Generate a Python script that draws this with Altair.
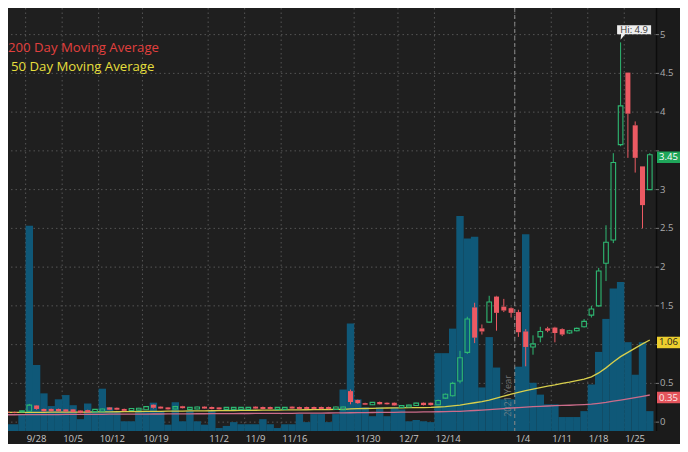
import altair as alt
import pandas as pd

# ---------------- data ----------------
session = list(range(89))  # trading sessions shown, left to right

opens = [0.135, 0.13, 0.13, 0.14, 0.215, 0.17, 0.17, 0.17, 0.165, 0.165,
         0.15, 0.155, 0.135, 0.14, 0.19, 0.185, 0.17, 0.15, 0.155, 0.16,
         0.225, 0.2, 0.19, 0.17, 0.205, 0.165, 0.17, 0.2, 0.195, 0.19,
         0.165, 0.165, 0.165, 0.165, 0.2, 0.195, 0.195, 0.165, 0.165, 0.2,
         0.195, 0.195, 0.195, 0.195, 0.195, 0.165, 0.16, 0.40, 0.285, 0.245,
         0.225, 0.26, 0.25, 0.25, 0.19, 0.195, 0.215, 0.25, 0.25, 0.225,
         0.31, 0.34, 0.53, 0.90, 1.48, 1.21, 1.29, 1.62, 1.49, 1.47,
         1.42, 1.17, 0.97, 1.10, 1.21, 1.22, 1.20, 1.15, 1.18, 1.23,
         1.38, 1.50, 2.05, 2.35, 3.58, 4.51, 3.83, 3.30, 3.00]
highs = [0.14, 0.135, 0.15, 0.235, 0.22, 0.175, 0.175, 0.175, 0.17, 0.17,
         0.155, 0.16, 0.17, 0.175, 0.195, 0.19, 0.175, 0.18, 0.185, 0.205,
         0.23, 0.205, 0.195, 0.21, 0.21, 0.195, 0.2, 0.205, 0.2, 0.195,
         0.195, 0.195, 0.195, 0.195, 0.205, 0.2, 0.2, 0.195, 0.195, 0.205,
         0.2, 0.2, 0.2, 0.2, 0.2, 0.2, 0.2, 0.42, 0.29, 0.25,
         0.26, 0.265, 0.255, 0.255, 0.22, 0.225, 0.25, 0.255, 0.255, 0.29,
         0.37, 0.52, 0.92, 1.36, 1.54, 1.26, 1.63, 1.63, 1.59, 1.48,
         1.45, 1.20, 1.12, 1.23, 1.23, 1.23, 1.21, 1.19, 1.22, 1.33,
         1.50, 1.99, 2.54, 3.47, 4.90, 4.51, 3.88, 3.30, 3.47]
lows = [0.115, 0.115, 0.125, 0.135, 0.16, 0.135, 0.135, 0.135, 0.13, 0.125,
        0.115, 0.12, 0.13, 0.135, 0.155, 0.155, 0.14, 0.145, 0.15, 0.155,
        0.175, 0.17, 0.16, 0.165, 0.175, 0.16, 0.165, 0.17, 0.165, 0.16,
        0.16, 0.16, 0.16, 0.16, 0.17, 0.165, 0.165, 0.16, 0.16, 0.17,
        0.165, 0.165, 0.165, 0.165, 0.165, 0.16, 0.155, 0.23, 0.235, 0.22,
        0.22, 0.225, 0.225, 0.21, 0.185, 0.19, 0.21, 0.215, 0.215, 0.22,
        0.30, 0.33, 0.50, 0.88, 1.02, 1.13, 1.28, 1.18, 1.42, 1.35,
        1.10, 0.72, 0.87, 1.03, 1.16, 1.03, 1.11, 1.14, 1.17, 1.22,
        1.35, 1.49, 1.82, 2.31, 3.56, 3.41, 3.22, 2.50, 3.00]
closes = [0.12, 0.12, 0.145, 0.22, 0.17, 0.14, 0.14, 0.14, 0.135, 0.13,
          0.12, 0.125, 0.165, 0.17, 0.16, 0.16, 0.145, 0.175, 0.18, 0.2,
          0.185, 0.175, 0.165, 0.2, 0.18, 0.19, 0.195, 0.175, 0.17, 0.165,
          0.19, 0.19, 0.19, 0.19, 0.175, 0.17, 0.17, 0.19, 0.19, 0.175,
          0.17, 0.17, 0.17, 0.17, 0.17, 0.195, 0.195, 0.26, 0.245, 0.225,
          0.255, 0.23, 0.23, 0.215, 0.215, 0.22, 0.245, 0.22, 0.22, 0.28,
          0.36, 0.50, 0.83, 1.33, 1.09, 1.17, 1.55, 1.41, 1.44, 1.41,
          1.16, 0.97, 1.01, 1.17, 1.18, 1.15, 1.13, 1.18, 1.21, 1.30,
          1.46, 1.95, 2.32, 3.35, 4.08, 3.98, 3.41, 2.80, 3.45]
volume_m = [0.16, 0.16, 0.40, 4.85, 1.56, 0.89, 0.59, 0.75, 0.85, 0.61,
            0.28, 0.65, 0.47, 1.00, 0.56, 0.47, 0.23, 0.23, 0.47, 0.47,
            0.67, 0.47, 0.15, 0.68, 0.23, 0.47, 0.23, 0.15, 0.47, 0.07,
            0.12, 0.21, 0.16, 0.16, 0.16, 0.28, 0.16, 0.07, 0.16, 0.16,
            0.40, 0.21, 0.40, 0.40, 0.21, 0.40, 0.98, 2.54, 0.75, 0.56,
            0.35, 0.56, 0.35, 0.56, 0.51, 0.23, 0.26, 0.23, 0.21, 1.84,
            1.84, 2.42, 5.08, 4.55, 4.59, 1.03, 2.22, 1.50, 0.75, 0.75,
            1.52, 4.65, 1.14, 0.86, 0.63, 0.63, 0.33, 0.33, 0.33, 0.47,
            1.10, 1.87, 2.65, 3.37, 3.52, 2.10, 1.33, 2.10, 0.47]
ma50 = [0.125, 0.125, 0.125, 0.125, 0.126, 0.127, 0.128, 0.128, 0.129, 0.13,
        0.13, 0.13, 0.131, 0.132, 0.133, 0.134, 0.135, 0.136, 0.137, 0.138,
        0.139, 0.14, 0.141, 0.142, 0.143, 0.144, 0.145, 0.146, 0.147, 0.148,
        0.149, 0.15, 0.151, 0.152, 0.153, 0.154, 0.155, 0.156, 0.157, 0.158,
        0.159, 0.16, 0.161, 0.162, 0.163, 0.164, 0.165, 0.17, 0.173, 0.176,
        0.178, 0.18, 0.182, 0.184, 0.185, 0.186, 0.187, 0.188, 0.19, 0.195,
        0.2, 0.21, 0.22, 0.235, 0.25, 0.265, 0.285, 0.31, 0.335, 0.36,
        0.385, 0.405, 0.425, 0.445, 0.465, 0.48, 0.5, 0.515, 0.535, 0.555,
        0.585, 0.635, 0.7, 0.775, 0.845, 0.9, 0.955, 1.01, 1.06]
ma200 = [0.095, 0.095, 0.096, 0.096, 0.097, 0.097, 0.098, 0.098, 0.099, 0.099,
         0.1, 0.1, 0.101, 0.101, 0.102, 0.102, 0.103, 0.103, 0.104, 0.104,
         0.105, 0.105, 0.106, 0.106, 0.107, 0.107, 0.108, 0.108, 0.109, 0.109,
         0.11, 0.11, 0.111, 0.111, 0.112, 0.112, 0.113, 0.113, 0.114, 0.114,
         0.115, 0.115, 0.116, 0.117, 0.118, 0.119, 0.12, 0.121, 0.122, 0.123,
         0.124, 0.125, 0.126, 0.127, 0.128, 0.129, 0.13, 0.131, 0.132, 0.134,
         0.136, 0.138, 0.14, 0.145, 0.15, 0.155, 0.162, 0.168, 0.175, 0.182,
         0.188, 0.194, 0.2, 0.204, 0.208, 0.212, 0.215, 0.218, 0.222, 0.227,
         0.233, 0.243, 0.255, 0.27, 0.285, 0.3, 0.315, 0.332, 0.35]

date_labels = ["9/28", "10/5", "10/12", "10/19", "11/2", "11/9", "11/16",
               "11/30", "12/7", "12/14", "1/4", "1/11", "1/18", "1/25"]
date_label_pos = [2.5, 7.5, 12.5, 18.5, 27.5, 32.5, 37.5,
                  47.5, 53.5, 58.5, 69.5, 74.5, 79.5, 84.5]
year_break_pos = 69.5
year_text = "2021 Year"
price_ticks = [0, 0.5, 1, 1.5, 2, 2.5, 3, 3.5, 4, 4.5, 5]
legend_texts = ["200 Day Moving Average", "50 Day Moving Average"]

for arr in (opens, highs, lows, closes, volume_m, ma50, ma200):
    assert len(arr) == len(session)

# ---------------- styling ----------------
FONT = "Open Sans"
BG = "#1b1b1b"
PLOT_BG = "#1f1f1f"
VOL_C = "#0f5878"
UP_C = "#2eb872"
DN_C = "#ec5a63"
MA50_C = "#d8cf4c"
MA200_C = "#cc6c8a"
GRID_C = "#555555"
PLOT_W, PLOT_H = 648, 423
TOTAL_W, TOTAL_H = 672, 436

df = pd.DataFrame({
    "idx": session, "open": opens, "high": highs, "low": lows, "close": closes,
    "vol": volume_m, "ma50": ma50, "ma200": ma200,
})
df["dir"] = ["up" if c >= o else "down" for o, c in zip(opens, closes)]
df["body_top"] = [max(o, c) for o, c in zip(opens, closes)]
df["body_bot"] = [min(o, c) for o, c in zip(opens, closes)]

# last-value tags (close, 50-day, 200-day)
tag_values = [closes[-1], ma50[-1], ma200[-1]]
last_df = pd.DataFrame({
    "value": tag_values,
    "text": [f"{v:.2f}" for v in tag_values],
    "bg": ["#1fa65a", "#ecce2e", "#e4545c"],
    "fg": ["#ffffff", "#1a1a1a", "#fbe9ea"],
})

tick_df = pd.DataFrame({"price": price_ticks, "label": [f"{v:g}" for v in price_ticks]})
# tick labels that sit underneath a last-value tag are hidden by it
label_df = tick_df[[all(abs(p - v) > 0.1 for v in tag_values) for p in price_ticks]]
date_df = pd.DataFrame({"pos": date_label_pos, "label": date_labels})
one_df = pd.DataFrame({"pos": [year_break_pos], "text": [year_text]})

xs = alt.Scale(domain=[0.082, 88.849], nice=False, zero=False, padding=0)
ys = alt.Scale(domain=[-0.1145, 5.3435], nice=False, zero=False, padding=0)


def X(field="idx:Q"):
    return alt.X(field, scale=xs, axis=None)


def Y(field):
    return alt.Y(field, scale=ys, axis=None)


# ---- grid (behind everything) ----
grid_h = alt.Chart(tick_df).mark_rule(color=GRID_C, strokeDash=[1.5, 3], strokeWidth=1).encode(
    y=Y("price:Q"))
grid_v = alt.Chart(date_df).mark_rule(color=GRID_C, strokeDash=[1.5, 3], strokeWidth=1).encode(
    x=X("pos:Q"))
grid = alt.layer(grid_h, grid_v)

# ---- volume ----
volume = alt.Chart(df).mark_bar(width=7.4, color=VOL_C).encode(
    x=X(),
    y=alt.Y("vol:Q", scale=alt.Scale(domain=[0, 10], nice=False, padding=0), axis=None),
)

# ---- price layers ----
year_rule = alt.Chart(one_df).mark_rule(color="#8a8a8a", strokeDash=[4, 3], strokeWidth=1).encode(
    x=X("pos:Q"))
year_label = alt.Chart(one_df).mark_text(
    angle=270, fontSize=9, font=FONT, color="#8e8e8e", opacity=0.75,
    align="center", baseline="middle", dy=-6.5,
).encode(x=X("pos:Q"), y=alt.value(388), text="text:N")

ma200_line = alt.Chart(df).mark_line(color=MA200_C, strokeWidth=1.3).encode(x=X(), y=Y("ma200:Q"))
ma50_line = alt.Chart(df).mark_line(color=MA50_C, strokeWidth=1.3).encode(x=X(), y=Y("ma50:Q"))

dir_color = alt.Color("dir:N", scale=alt.Scale(domain=["up", "down"], range=[UP_C, DN_C]), legend=None)
wick_hi = alt.Chart(df).mark_rule(strokeWidth=1).encode(
    x=X(), y=Y("body_top:Q"), y2="high:Q", color=dir_color)
wick_lo = alt.Chart(df).mark_rule(strokeWidth=1).encode(
    x=X(), y=Y("low:Q"), y2="body_bot:Q", color=dir_color)
body_up = alt.Chart(df).transform_filter("datum.dir == 'up'").mark_bar(
    width=4.6, filled=False, color=UP_C, strokeWidth=1.1
).encode(x=X(), y=Y("open:Q"), y2="close:Q")
body_dn = alt.Chart(df).transform_filter("datum.dir == 'down'").mark_bar(
    width=5, color=DN_C
).encode(x=X(), y=Y("open:Q"), y2="close:Q")

# ---- right price axis (drawn with the price scale) ----
axis_line = alt.Chart(one_df).mark_rule(color="#0c0c0c", strokeWidth=1.5).encode(x=alt.value(PLOT_W + 0.5))
axis_ticks = alt.Chart(tick_df).mark_rule(color="#777777", strokeWidth=1).encode(
    y=Y("price:Q"), x=alt.value(PLOT_W), x2=alt.value(PLOT_W + 3))
axis_labels = alt.Chart(label_df).mark_text(
    font=FONT, fontSize=9.5, color="#acacac", align="left", baseline="middle"
).encode(y=Y("price:Q"), x=alt.value(PLOT_W + 4), text="label:N")

# ---- bottom date axis ----
date_text = alt.Chart(date_df).mark_text(
    font=FONT, fontSize=9.5, color="#c8c8c8", align="left", baseline="alphabetic", dx=1
).encode(x=X("pos:Q"), y=alt.value(PLOT_H + 11), text="label:N")

# ---- "Hi" call-out on the highest session ----
hi_i = max(range(len(highs)), key=lambda k: highs[k])
hi_df = pd.DataFrame({"idx": [session[hi_i]], "high": [highs[hi_i]], "text": [f"Hi: {highs[hi_i]:g}"]})
HI_PATH = "M0,-0.25 L0.05,-0.8 L-0.35,-0.8 L-0.35,-1.7 L3.05,-1.7 L3.05,-0.8 L0.45,-0.8 Z"
hi_box = alt.Chart(hi_df).mark_point(
    shape=HI_PATH, size=400, filled=True, color="#eeeeee", opacity=1, strokeWidth=0
).encode(x=X(), y=Y("high:Q"))
hi_text = alt.Chart(hi_df).mark_text(
    dx=13.5, dy=-12.5, fontSize=9.5, font=FONT, color="#333333", align="center", baseline="middle"
).encode(x=X(), y=Y("high:Q"), text="text:N")

tag_box = alt.Chart(last_df).mark_point(
    shape="M-1,-0.5H1V0.5H-1Z", size=529, filled=True, opacity=1, strokeWidth=0, yOffset=2.5
).encode(x=alt.value(PLOT_W + 12.5), y=Y("value:Q"), color=alt.Color("bg:N", scale=None))
tag_text = alt.Chart(last_df).mark_text(
    fontSize=9.5, font=FONT, align="center", baseline="middle", yOffset=2.5
).encode(x=alt.value(PLOT_W + 12.5), y=Y("value:Q"), text="text:N",
         color=alt.Color("fg:N", scale=None))

# ---- moving-average captions ----
leg200 = alt.Chart(one_df).mark_text(
    text=legend_texts[0], fontSize=13.2, font=FONT, color="#e2403e", align="left", baseline="alphabetic"
).encode(x=alt.value(0), y=alt.value(43.5))
leg50 = alt.Chart(one_df).mark_text(
    text=legend_texts[1], fontSize=13.2, font=FONT, color="#e6df3d", align="left", baseline="alphabetic"
).encode(x=alt.value(3), y=alt.value(62.5))

price = alt.layer(
    year_rule, ma200_line, ma50_line, wick_hi, wick_lo, body_up, body_dn,
    year_label, axis_line, axis_ticks, axis_labels, date_text,
    hi_box, hi_text, tag_box, tag_text, leg200, leg50,
)

chart = alt.layer(grid, volume, price).resolve_scale(y="independent").properties(
    width=PLOT_W, height=PLOT_H,
    padding={"left": 0, "top": 0, "right": TOTAL_W - PLOT_W, "bottom": TOTAL_H - PLOT_H},
    autosize=alt.AutoSizeParams(type="none"),
).configure(background=BG).configure_view(fill=PLOT_BG, strokeWidth=0)

chart.save("out.html", embed_options={"renderer": "svg", "actions": False})
